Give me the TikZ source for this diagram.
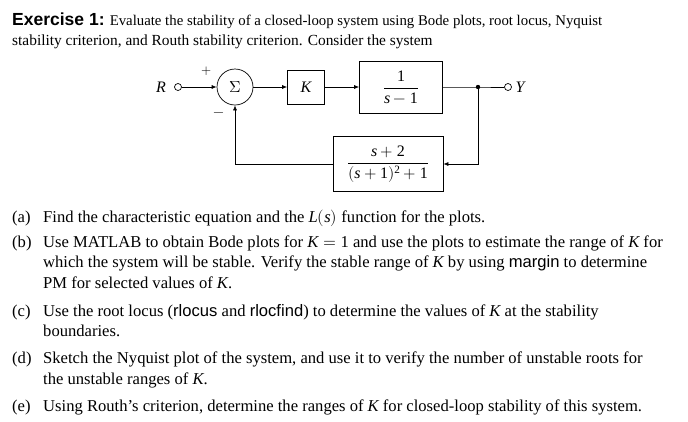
\documentclass[tikz,border=0pt]{standalone}
\usetikzlibrary{arrows.meta}
\usepackage{fontspec}
\setmainfont{Liberation Serif}
\setsansfont{Liberation Sans}
\usepackage{unicode-math}
\setmathfont{Latin Modern Math}
\setmathfont[range=it/{latin,Latin},Scale=1]{Liberation Serif Italic}
\setmathfont[range=up/{num}]{Liberation Serif}
\begin{document}
\begin{tikzpicture}[x=1pt,y=-1pt,
  txt/.style={anchor=base west,inner sep=0pt,font=\fontsize{16.6}{19}\selectfont},
  ttl/.style={anchor=base west,inner sep=0pt,font=\fontsize{15.4}{19}\selectfont},
  blk/.style={draw,line width=0.7pt,inner sep=0pt},
  port/.style={draw,circle,line width=0.7pt,minimum size=7pt,inner sep=0pt},
  lnk/.style={line width=0.7pt},
  arr/.style={lnk,-{Latex[length=5pt,width=4pt]}},
  every node/.append style={font=\fontsize{16}{19}\selectfont}]
\useasboundingbox (0,0) rectangle (688,421);
\node[ttl] (t1) at (12,25) {\textsf{\textbf{\fontsize{17.5}{19}\selectfont Exercise 1:}} \fontsize{14.8}{19}\selectfont Evaluate the stability of a closed-loop system using Bode plots, root locus, Nyquist};
\node[ttl] (t2) at (12,45) {stability criterion, and Routh stability criterion. Consider the system};
% diagram
\node (Rl) at (161,87) {$R$};
\node[port] (R) at (178,87) {};
\node[draw,circle,line width=0.7pt,minimum size=36pt,inner sep=0pt] (S) at (235,87) {$\Sigma$};
\node[blk,minimum width=37pt,minimum height=34pt] (K) at (306,87) {$K$};
\node[blk,minimum width=83pt,minimum height=52pt] (G) at (401,87) {$\dfrac{1}{s-1}$};
\node[port] (Y) at (508,87) {};
\node[anchor=west] (Yl) at (512,87) {$Y$};
\coordinate (J) at (478,87);
\fill (J) circle (2.2pt);
\node[blk,minimum width=110pt,minimum height=55pt] (H) at (388,164) {$\dfrac{s+2}{(s+1)^2+1}$};
\node[font=\fontsize{13}{13}\selectfont] (plus) at (207,71) {$+$};
\node[font=\fontsize{14}{13}\selectfont] (minus) at (219,115) {$-$};
\draw[arr] (R) -- (S);
\draw[arr] (S) -- (K);
\draw[arr] (K) -- (G);
\draw[lnk] (G) -- (J) -- (Y);
\draw[arr] (J) |- (H.east);
\draw[arr] (H.west) -| (S.south);
% items
\node[txt] (la) at (12,222) {(a)};
\node[txt] (a1) at (43,222) {Find the characteristic equation and the $L(s)$ function for the plots.};
\node[txt] (lb) at (12,247) {(b)};
\node[txt] (b1) at (43,247) {Use MATLAB to obtain Bode plots for $K=1$ and use the plots to estimate the range of $K$ for};
\node[txt] (b2) at (43,267) {which the system will be stable. Verify the stable range of $K$ by using \textsf{margin} to determine};
\node[txt] (b3) at (43,288) {PM for selected values of $K$.};
\node[txt] (lc) at (12,316) {(c)};
\node[txt] (c1) at (43,316) {Use the root locus (\textsf{rlocus} and \textsf{rlocfind}) to determine the values of $K$ at the stability};
\node[txt] (c2) at (43,336) {boundaries.};
\node[txt] (ld) at (12,363) {(d)};
\node[txt] (d1) at (43,363) {Sketch the Nyquist plot of the system, and use it to verify the number of unstable roots for};
\node[txt] (d2) at (43,384) {the unstable ranges of $K$.};
\node[txt] (le) at (12,411) {(e)};
\node[txt] (e1) at (43,411) {Using Routh's criterion, determine the ranges of $K$ for closed-loop stability of this system.};
\end{tikzpicture}
\end{document}
